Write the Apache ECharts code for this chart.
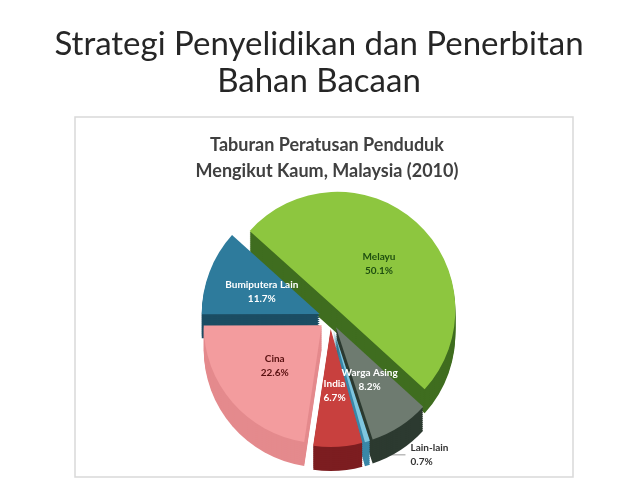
<!DOCTYPE html>
<html>
<head>
<meta charset="utf-8">
<script src="https://cdn.jsdelivr.net/npm/echarts@6/dist/echarts.min.js"></script>
<style>
html,body{margin:0;padding:0;background:#fff;}
#c{width:638px;height:478px;}
</style>
</head>
<body>
<div id="c"></div>
<script>
const slideTitle = ['Strategi Penyelidikan dan Penerbitan', 'Bahan Bacaan'];
const chartTitle = ['Taburan Peratusan Penduduk', 'Mengikut Kaum, Malaysia (2010)'];
const categories = ['Melayu', 'Warga Asing', 'Lain-lain', 'India', 'Cina', 'Bumiputera Lain'];
const values = [50.1, 8.2, 0.7, 6.7, 22.6, 11.7];
const topColors = ['#8dc63f', '#6e7b70', '#7fc6df', '#c8403e', '#f39c9e', '#2e7b9c'];
const sideColors = ['#3f6d1f', '#2c3a30', '#3a87a8', '#7c1d20', '#e48a8d', '#1b4d63'];
const labelColors = ['#1f4f10', '#ffffff', '#333333', '#ffffff', '#5a1212', '#ffffff'];

const cx = 330, cy = 318, radius = 118;
const depthLayers = 12, depthStep = 2;

function makeData(colors, withLabels) {
  return categories.map((name, i) => {
    const item = {
      name: name,
      value: values[i],
      selected: true,
      itemStyle: { color: colors[i] }
    };
    if (withLabels) {
      item.label = { color: labelColors[i] };
      if (name === 'Lain-lain') {
        item.label = { color: labelColors[i], position: 'outside' };
        item.labelLine = { show: true, length: 14, length2: 34, lineStyle: { color: '#999', width: 1 } };
      }
    }
    return item;
  });
}

const series = [];
for (let i = depthLayers; i >= 1; i--) {
  series.push({
    type: 'pie',
    silent: true,
    animation: false,
    center: [cx, cy + i * depthStep],
    radius: radius,
    startAngle: 138,
    clockwise: true,
    selectedMode: 'multiple',
    selectedOffset: 11,
    avoidLabelOverlap: false,
    label: { show: false },
    labelLine: { show: false },
    emphasis: { disabled: true },
    data: makeData(sideColors, false)
  });
}
series.push({
  type: 'pie',
  silent: true,
  animation: false,
  center: [cx, cy],
  radius: radius,
  startAngle: 138,
  clockwise: true,
  selectedMode: 'multiple',
  selectedOffset: 11,
  avoidLabelOverlap: false,
  labelLayout: { hideOverlap: false },
  label: {
    show: true,
    position: 'inside',
    formatter: '{b}\n{c}%',
    fontFamily: 'Lato',
    fontWeight: 'bold',
    fontSize: 10,
    lineHeight: 14,
    align: 'center'
  },
  labelLine: { show: false },
  emphasis: { disabled: true },
  data: makeData(topColors, true)
});

const chart = echarts.init(document.getElementById('c'), null, { renderer: 'canvas' });
chart.setOption({
  backgroundColor: '#ffffff',
  animation: false,
  title: [
    {
      text: slideTitle.join('\n'),
      left: 'center',
      top: 21,
      textStyle: { fontFamily: 'Lato', fontSize: 33, fontWeight: 'normal', color: '#262626', lineHeight: 37, align: 'center' }
    },
    {
      text: chartTitle.join('\n'),
      left: 322,
      top: 127,
      textAlign: 'center',
      textStyle: { fontFamily: 'Lato', fontSize: 18, fontWeight: 'bold', color: '#404040', lineHeight: 26, align: 'center' }
    }
  ],
  graphic: [
    {
      type: 'rect',
      z: -10,
      shape: { x: 75, y: 117, width: 498, height: 360 },
      style: { fill: '#ffffff', stroke: '#d9d9d9', lineWidth: 1.5 },
      silent: true
    }
  ],
  series: series
});
</script>
</body>
</html>
